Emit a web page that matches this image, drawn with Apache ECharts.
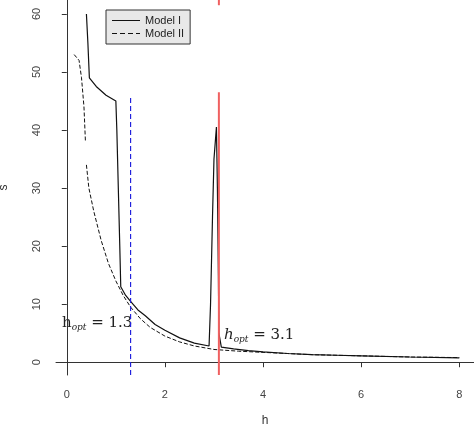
<!DOCTYPE html><html><head><meta charset="utf-8"><script src="https://cdn.jsdelivr.net/npm/echarts@6/dist/echarts.min.js"></script></head><body style="margin:0"><div id="c" style="width:474px;height:431px"></div><script>
const xTicks=[0,2,4,6,8];
const yTicks=[0,10,20,30,40,50,60];
const model1=[[0.4,60],[0.43,55],[0.46,49],[0.6,47.5],[0.8,46],[1.0,45],[1.02,40],[1.05,30],[1.08,20],[1.1,13],[1.2,11.5],[1.3,10.5],[1.45,9],[1.6,8],[1.8,6.5],[2.0,5.5],[2.3,4.2],[2.6,3.3],[2.9,2.8],[2.93,10],[2.97,25],[3.0,35],[3.05,40.5],[3.07,30],[3.09,15],[3.1,5],[3.15,2.6],[3.4,2.3],[3.7,2.0],[4.0,1.8],[4.5,1.5],[5.0,1.3],[5.5,1.2],[6.0,1.1],[7.0,0.9],[8.0,0.75]];
const model2=[[0.15,53],[0.25,52],[0.3,49],[0.35,44],[0.38,38],[0.4,null],[0.4,34],[0.45,30],[0.55,26],[0.7,21],[0.85,17],[1.0,14],[1.15,11.5],[1.3,9.5],[1.5,7.5],[1.7,6],[2.0,4.5],[2.3,3.5],[2.6,2.8],[3.0,2.2],[3.5,1.9],[4.0,1.7],[4.5,1.5],[5.0,1.3],[6.0,1.1],[7.0,0.9],[8.0,0.8]];
const hOpt1=1.3, hOpt2=3.1;
const c=echarts.init(document.getElementById('c'));
const F='Liberation Sans';
c.setOption({animation:false,
grid:{left:56,right:0,top:0,bottom:56,containLabel:false,outerBoundsMode:'none'},
xAxis:{type:'value',min:-0.22,max:8.3,interval:2,name:'h',nameLocation:'middle',nameGap:40,nameTextStyle:{fontFamily:F,fontSize:12,color:'#333'},
 axisLine:{lineStyle:{color:'#333'}},axisTick:{length:5,lineStyle:{color:'#333'},customValues:xTicks},axisLabel:{fontFamily:F,fontSize:11,color:'#444',margin:14,customValues:xTicks},splitLine:{show:false}},
yAxis:{type:'value',min:-2.2,max:62.4,name:'s',nameLocation:'middle',nameGap:46,nameTextStyle:{fontFamily:F,fontSize:12,color:'#333'},
 axisLine:{show:true,lineStyle:{color:'#333'}},axisTick:{show:true,length:5,lineStyle:{color:'#333'},customValues:yTicks},axisLabel:{fontFamily:F,fontSize:11,color:'#444',rotate:90,margin:14,customValues:yTicks},splitLine:{show:false}},
legend:{left:106,top:10,orient:'vertical',backgroundColor:'#e8e8e8',borderColor:'#333',borderWidth:1,borderRadius:0,padding:[5,6],itemGap:2,itemWidth:28,itemHeight:8,textStyle:{fontFamily:F,fontSize:11,color:'#222'},data:[{name:'Model I',icon:'path://M0,4L28,4L28,5L0,5Z'},{name:'Model II',icon:'path://M0,4L5,4L5,5L0,5ZM8,4L13,4L13,5L8,5ZM16,4L21,4L21,5L16,5ZM24,4L28,4L28,5L24,5Z'}]},
series:[
{name:'Model I',type:'line',data:model1,showSymbol:false,connectNulls:false,lineStyle:{color:'#111',width:1.2},itemStyle:{color:'#111'}},
{name:'Model II',type:'line',data:model2,showSymbol:false,connectNulls:false,lineStyle:{color:'#111',width:1,type:[4,2]},itemStyle:{color:'#111'}},
{type:'line',data:[[hOpt1,-2.2],[hOpt1,46]],showSymbol:false,lineStyle:{color:'#2222dd',width:1.2,type:[5,3]},silent:true},
{type:'line',data:[[hOpt2,-2.2],[hOpt2,46.5]],showSymbol:false,lineStyle:{color:'#f06060',width:2},silent:true},
{type:'line',data:[[hOpt2,61.5],[hOpt2,62.4]],showSymbol:false,lineStyle:{color:'#f06060',width:2},silent:true}
],
graphic:[
{type:'text',left:62,top:316,style:{text:'{a|h}{s|opt}{a| = 1.3}',rich:{a:{font:'15px "DejaVu Serif"',fill:'#222'},s:{font:'italic 9px "DejaVu Serif"',fill:'#222',padding:[8,0,0,0]}}}},
{type:'text',left:224,top:328,style:{text:'{a|h}{s|opt}{b| = 3.1}',rich:{a:{font:'italic 15px "DejaVu Serif"',fill:'#222'},b:{font:'15px "DejaVu Serif"',fill:'#222'},s:{font:'italic 9px "DejaVu Serif"',fill:'#222',padding:[8,0,0,0]}}}}
]});
</script></body></html>
